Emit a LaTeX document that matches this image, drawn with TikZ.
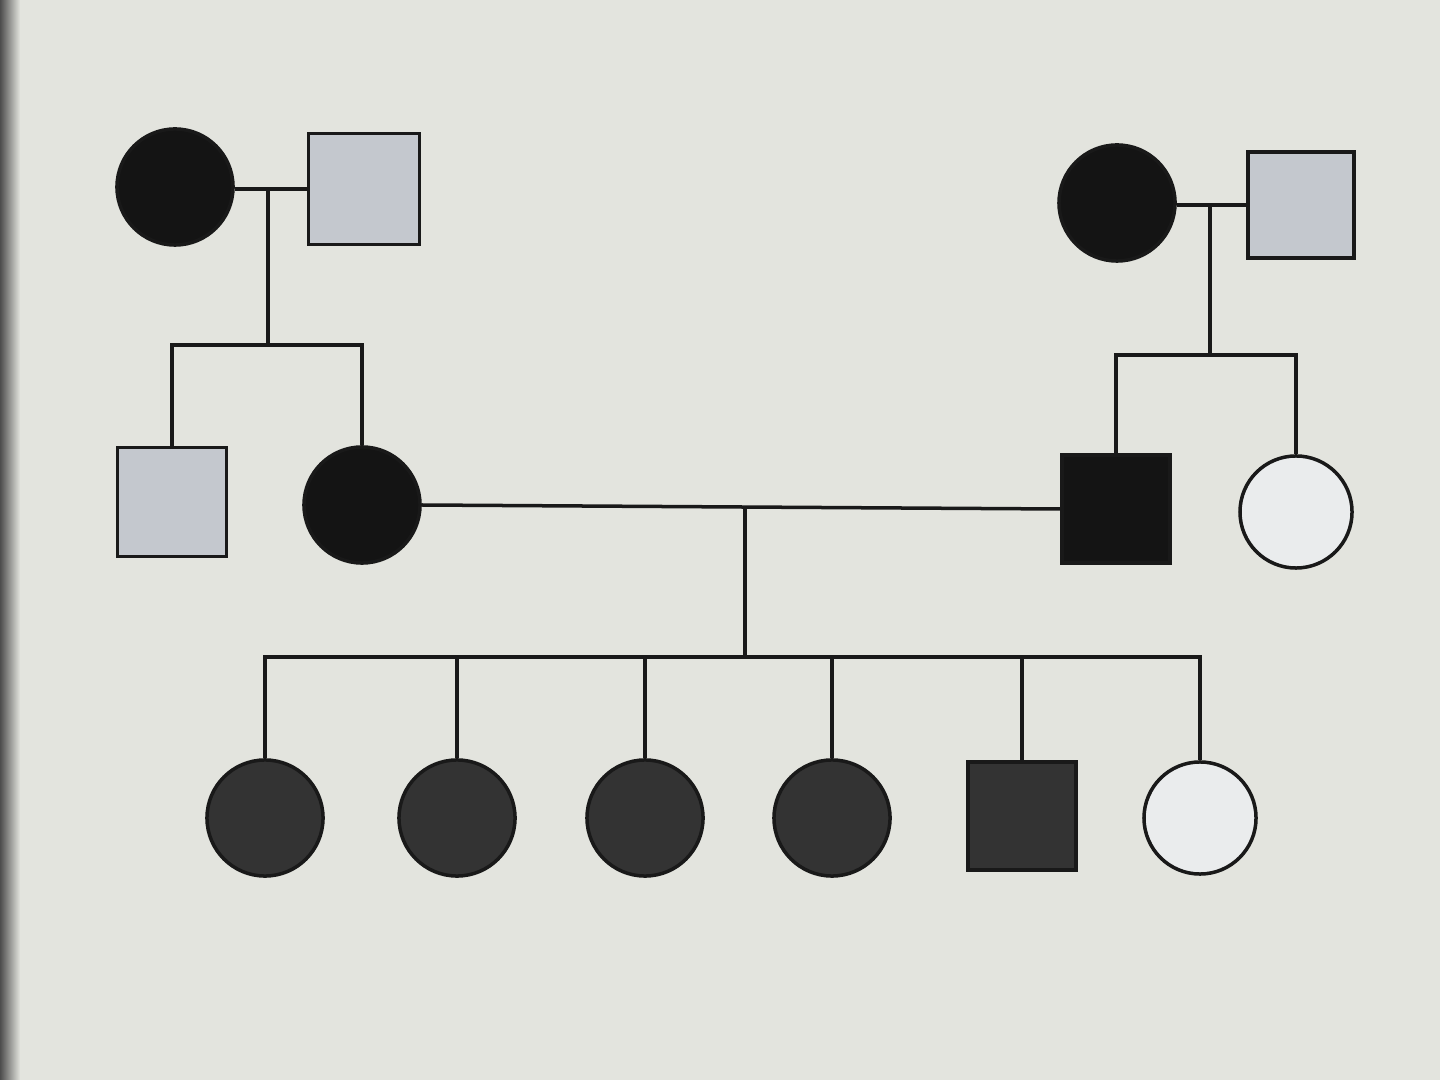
\documentclass[tikz,border=0pt]{standalone}
\begin{document}
\begin{tikzpicture}[x=0.01cm,y=-0.01cm,
  ln/.style={line width=0.035cm,draw=black!90},
  fem/.style={circle,draw=black!90,line width=0.035cm,minimum size=1.16cm,inner sep=0pt},
  mal/.style={rectangle,draw=black!90,line width=0.035cm,minimum size=1.08cm,inner sep=0pt},
  blk/.style={fill=black!92},
  dk/.style={fill=black!80},
  gry/.style={fill=sqc},
  wht/.style={fill=whc}]
\definecolor{bgc}{RGB}{227,228,222}
\definecolor{sqc}{RGB}{196,200,206}
\definecolor{whc}{RGB}{234,236,237}
\fill[bgc] (0,0) rectangle (1440,1080);
\shade[left color=black!70,right color=bgc] (0,0) rectangle (20,1080);
\useasboundingbox (0,0) rectangle (1440,1080);
% generation 1 left
\node[fem,blk] (c1) at (175,187) {};
\node[mal,gry,minimum size=1.11cm] (s1) at (364,189) {};
% generation 1 right
\node[fem,blk] (c2) at (1117,203) {};
\node[mal,gry,minimum size=1.06cm] (s2) at (1301,205) {};
% generation 2
\node[mal,gry,minimum size=1.09cm] (s3) at (172,502) {};
\node[fem,blk] (c3) at (362,505) {};
\node[mal,blk] (s4) at (1116,509) {};
\node[fem,wht,minimum size=1.12cm] (c4) at (1296,512) {};
% generation 3
\node[fem,dk] (k1) at (265,818) {};
\node[fem,dk] (k2) at (457,818) {};
\node[fem,dk] (k3) at (645,818) {};
\node[fem,dk] (k4) at (832,818) {};
\node[mal,dk] (k5) at (1022,816) {};
\node[fem,wht,minimum size=1.12cm] (k6) at (1200,818) {};
% couple 1
\coordinate (m1) at (268,189);
\coordinate (d1) at (268,345);
\draw[ln] (c1.east |- m1) -- (s1.west |- m1);
\draw[ln] (m1) -- (d1);
\draw[ln] (s3.north) |- (d1) -| (c3.north);
% couple 2
\coordinate (m2) at (1210,205);
\coordinate (d2) at (1210,355);
\draw[ln] (c2.east |- m2) -- (s2.west |- m2);
\draw[ln] (m2) -- (d2);
\draw[ln] (s4.north) |- (d2) -| (c4.north);
% couple 3
\coordinate (m3) at (745,507);
\coordinate (d3) at (745,657);
\draw[ln] (c3.east) -- (s4.west);
\draw[ln] (m3) -- (d3);
\draw[ln] (k1.north) |- (d3) -| (k6.north);
\foreach \k in {k2,k3,k4,k5}
  \draw[ln] (\k.north) -- (\k.north |- d3);
\end{tikzpicture}
\end{document}
